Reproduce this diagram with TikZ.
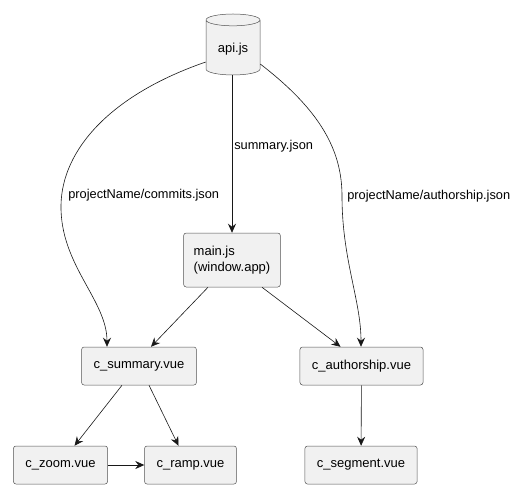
\documentclass[tikz,border=0pt]{standalone}
\usepackage{fontspec}
\setmainfont{Liberation Sans}
\usepackage{tikz}
\usetikzlibrary{positioning,shapes.geometric,arrows.meta,calc}
\definecolor{ink}    {HTML}{181818}
\definecolor{boxfill}{HTML}{F1F1F1}
\tikzset{
  >={Stealth[length=9pt,width=8pt,inset=3pt]},
  every node/.style={font=\fontsize{13}{15.5}\selectfont},
  % --- nodes
  comp/.style  = {rounded corners=2.5pt, draw=ink!75, fill=boxfill, line width=0.5pt,
                  inner xsep=12pt, minimum height=38pt},
  store/.style = {cylinder, shape border rotate=90, aspect=0.32, draw=ink!75,
                  fill=boxfill, line width=0.5pt, minimum width=54pt, minimum height=61pt},
  elbl/.style  = {font=\fontsize{12.8}{14}\selectfont, text=black, inner sep=2pt},
  % --- edges
  e/.style     = {->, line width=0.6pt, draw=ink},
}

\begin{document}
\begin{tikzpicture}[x=1pt,y=-1pt]
  \useasboundingbox (0,0) rectangle (527,493);

  \node[store] (api) at (233,49) {\raisebox{-3pt}{api.js}};
  \node[comp, align=left, minimum height=54pt, inner xsep=10pt] (main) at (232,260)
     {main.js\\(window.app)};

  \node[comp] (csum)  at (139,366)   {c\_summary.vue};
  \node[comp] (cauth) at (361.5,366) {c\_authorship.vue};
  \node[comp] (czoom) at (60.5,465)  {c\_zoom.vue};
  \node[comp] (cramp) at (190.5,465) {c\_ramp.vue};
  \node[comp] (cseg)  at (361,465)   {c\_segment.vue};

  % data from the api
  \draw[e] (api.south -| main.north) -- node[elbl, anchor=west, pos=.45] {summary.json} (main.north);
  \draw[e] (api.west |- 0,62) .. controls (110,95) and (62,150) .. (61,205)
     node[elbl, anchor=west, xshift=5pt, yshift=10pt] {projectName/commits.json}
     .. controls (60,265) and (107,300) .. (csum.north -| 107,0);
  \draw[e] (api.east |- 0,64) .. controls (320,110) and (342,150) .. (342,196)
     node[elbl, anchor=west, xshift=3pt] {projectName/authorship.json}
     .. controls (342,260) and (361,300) .. (cauth.north -| 361,0);

  % components
  \draw[e] ($(main.south)+(-24,0)$) -- ($(csum.north)+(12,0)$);
  \draw[e] ($(main.south)+(30,0)$)  -- ($(cauth.north)+(-21,0)$);
  \draw[e] ($(csum.south)+(-17,0)$) -- ($(czoom.north)+(14,0)$);
  \draw[e] ($(csum.south)+(10,0)$)  -- ($(cramp.north)+(-12,0)$);
  \draw[e] (czoom) -- (cramp);
  \draw[e] (cauth) -- (cseg);
\end{tikzpicture}
\end{document}
